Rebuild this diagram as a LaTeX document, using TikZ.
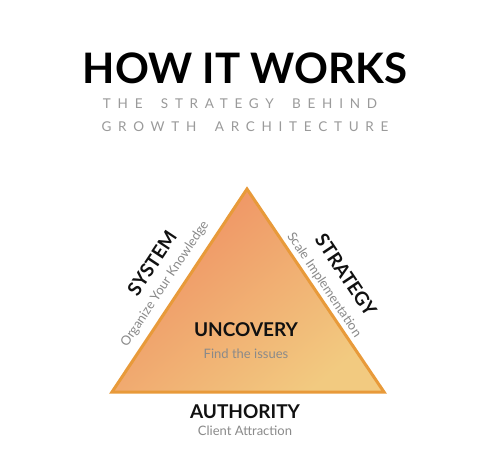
\documentclass[tikz,border=0pt]{standalone}
\usepackage{fontspec}
\setmainfont{Lato}
\newfontfamily\subfont[LetterSpace=50,WordSpace=1.8]{Lato}
\definecolor{edgeor}{HTML}{E89A3A}
\definecolor{fillor}{HTML}{EF8E62}
\definecolor{fillpk}{HTML}{EA7C74}
\definecolor{fillye}{HTML}{F2CA80}
\definecolor{subgray}{HTML}{9A9A9A}
\definecolor{labgray}{HTML}{8A8A8A}
\definecolor{txtdark}{HTML}{111111}
\begin{document}
\begin{tikzpicture}[x=1pt,y=-1pt,
  title/.style={font=\fontsize{42}{42}\selectfont\bfseries, text=black, inner sep=0},
  subt/.style={font=\subfont\fontsize{13.5}{14}\selectfont, text=subgray, inner sep=0},
  big/.style={font=\fontsize{19}{20}\selectfont\bfseries, text=txtdark, inner sep=0},
  small/.style={font=\fontsize{13}{14}\selectfont, text=labgray, inner sep=0}]
\useasboundingbox[fill=white] (0,0) rectangle (480,455);
\coordinate (apex) at (247,189);
\coordinate (bl) at (112,392);
\coordinate (br) at (384,392);
\path[top color=fillor, middle color=fillpk, bottom color=fillye, shading angle=40]
  (apex) -- (bl) -- (br) -- cycle;
\draw[edgeor, line width=3pt, line join=miter] (apex) -- (bl) -- (br) -- cycle;
\node[title] (t) at (245,68) {HOW IT WORKS};
\node[subt] (s1) at (240,104) {THE STRATEGY BEHIND};
\node[subt] (s2) at (245,127) {GROWTH ARCHITECTURE};
\node[big, rotate=56.4] (sys) at (152,263) {SYSTEM};
\node[small, rotate=56.4] (sysl) at (165,284) {Organize Your Knowledge};
\node[big, rotate=-56.2] (str) at (346,275) {STRATEGY};
\node[small, rotate=-56.2] (strl) at (324,285) {Scale Implementation};
\node[big] (unc) at (246,330) {UNCOVERY};
\node[small] (uncl) at (246,354) {Find the issues};
\node[big] (aut) at (245,412) {AUTHORITY};
\node[small] (autl) at (245,431) {Client Attraction};
\end{tikzpicture}
\end{document}
